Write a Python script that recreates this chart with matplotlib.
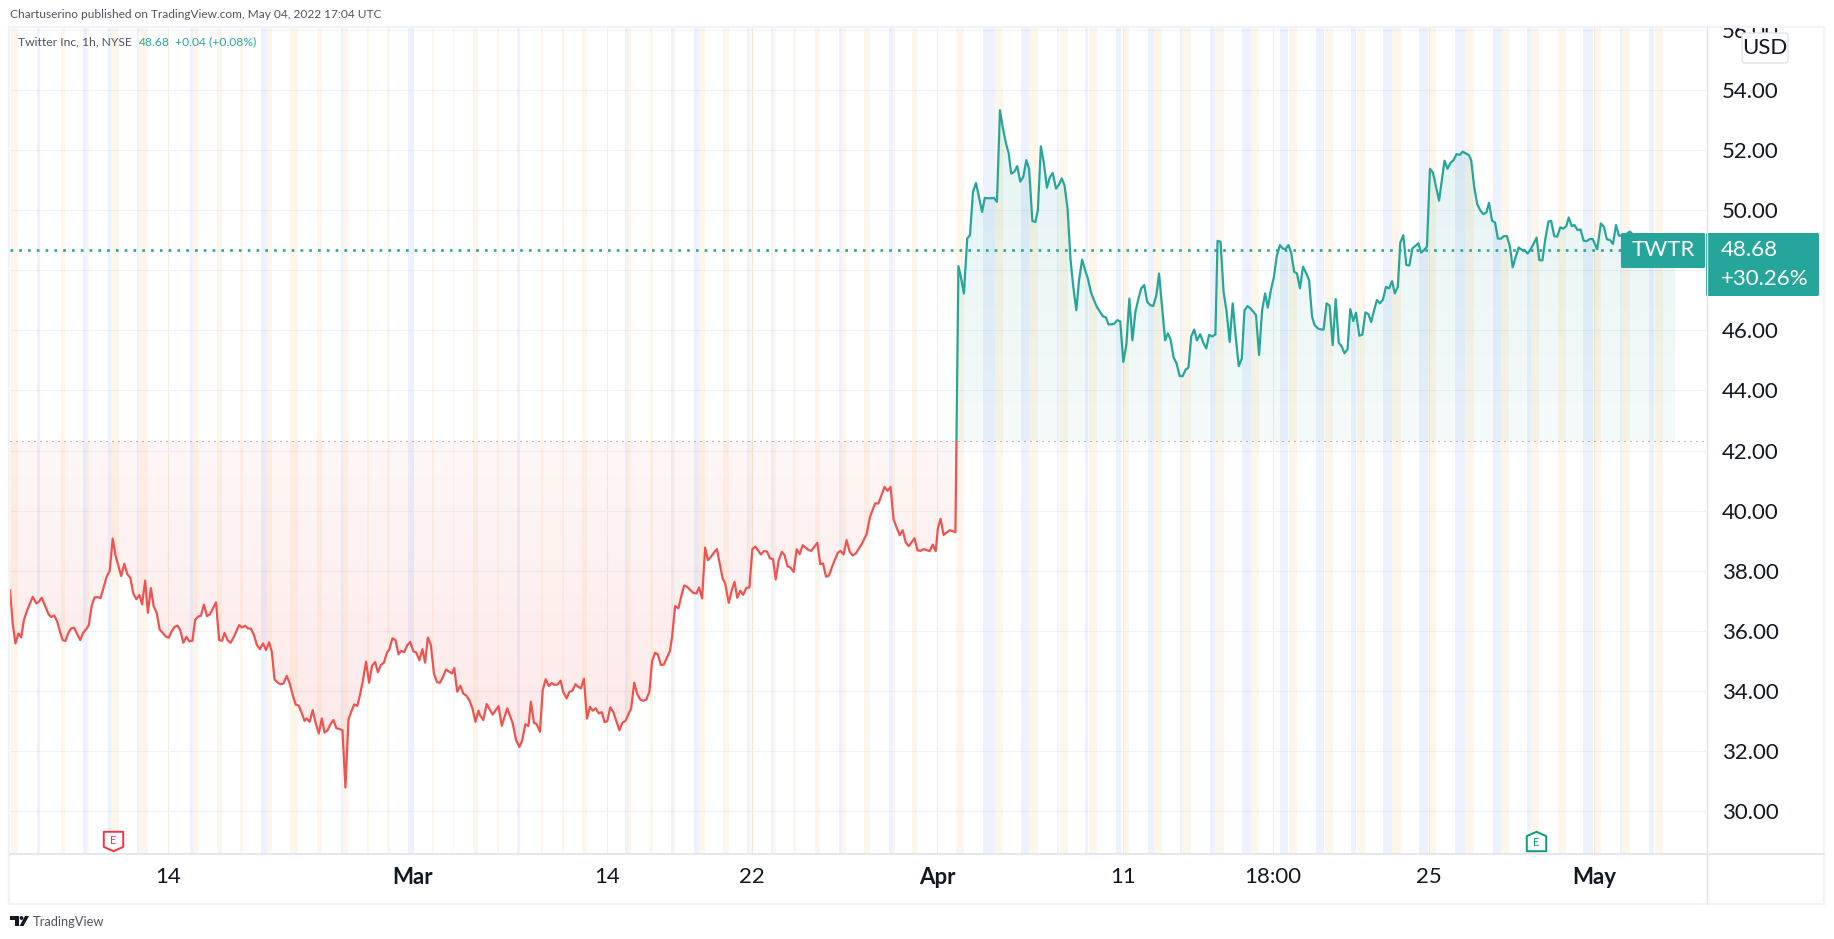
import numpy as np
import matplotlib
matplotlib.use("Agg")
import matplotlib.pyplot as plt
from matplotlib.colors import to_rgb
from matplotlib.patches import Circle, FancyBboxPatch, Polygon, Rectangle
from matplotlib.path import Path
from matplotlib.transforms import blended_transform_factory

plt.rcParams["font.family"] = ["Lato", "DejaVu Sans"]

# --- TWTR 1h closes, x is the bar number on the chart ---
feb_bars = [0, 0.9, 1.8, 2.8, 3.7, 4.6, 5.7, 7.5, 8.7, 9.5, 10.5, 11.6, 12.8, 13.6, 14.6, 15.6, 16.5, 17.4, 18.3, 19.3,
            20.2, 21.2, 22.2, 23.2, 24.2, 25.2, 26, 27, 27.9, 28.9, 29.9, 30.9, 31.9, 32.9, 33.9, 34.8, 35.8, 36.7, 37.7, 38.7,
            39.7, 40.7, 41.7, 42.7, 43.6, 44.6, 45.5, 46.5, 47.4, 48.4, 49.4, 50.4, 51.4, 52.4, 53.4, 54.3, 55.3, 56.2, 57.2, 58.2,
            59.2, 60.2, 61.1, 62, 63, 64, 65, 66, 68, 69, 70, 70.8, 71.8, 72.8, 73.8, 75.6, 76.6, 77.6, 78.5, 79.5,
            80.5, 81.5, 82.5, 83.5, 84.5, 85.5, 86.4, 87.3, 88.3, 89.3, 90.3, 91.3, 92.3, 93.3, 94.3, 95.3, 96.3, 97.2, 97.9, 98.9,
            99.9, 100.9, 101.9, 102.9, 103.8, 104.8, 105.8, 106.7, 107.7, 108.7, 109.7, 110.7, 111.7, 112.6, 113.6, 114.6, 115.5, 116.5, 117.5, 118.5,
            119.5, 120.5, 121.4, 122.4, 123.4, 124.4, 125.2, 126.2, 127.2, 128.2, 129.1, 130.1, 131.1, 132.1, 133.1, 134.1, 135.1, 136.1, 137, 137.9,
            138.9, 139.9, 140.9, 141.9, 142.9, 143.9, 144.9, 145.9, 146.6, 147.6, 148.6, 149.6, 150.6, 151.6, 152.6, 153.6, 154.6]
feb_prices = [37.35, 36.24, 35.58, 35.91, 35.78, 36.36, 36.69, 37.13, 36.91, 36.97, 37.10, 36.82, 36.54, 36.46, 36.51, 36.30, 35.97, 35.69, 35.66, 35.94,
              36.08, 36.10, 35.88, 35.69, 35.94, 36.06, 36.19, 36.85, 37.11, 37.12, 37.09, 37.44, 37.80, 37.99, 39.07, 38.52, 38.15, 37.82, 38.23, 37.89,
              37.76, 37.24, 37.05, 37.19, 36.88, 37.67, 36.60, 37.42, 36.82, 36.60, 36.04, 35.93, 35.81, 35.77, 35.99, 36.13, 36.17, 36.02, 35.60, 35.80,
              35.65, 35.67, 36.36, 36.47, 36.50, 36.87, 36.49, 36.55, 36.95, 35.69, 35.67, 35.93, 35.69, 35.60, 35.78, 36.19, 36.11, 36.17, 36.08, 36.07,
              35.86, 35.52, 35.39, 35.58, 35.36, 35.62, 35.30, 34.38, 34.28, 34.22, 34.25, 34.50, 34.25, 33.86, 33.54, 33.51, 33.25, 33.00, 33.08, 32.97,
              33.36, 32.92, 32.58, 33.08, 32.61, 32.69, 32.89, 33.03, 32.76, 32.73, 32.69, 30.78, 33.05, 33.30, 33.55, 33.50, 33.86, 34.36, 34.97, 34.27,
              34.84, 34.96, 34.62, 34.86, 34.94, 35.27, 35.38, 35.75, 35.69, 35.22, 35.33, 35.29, 35.52, 35.63, 35.32, 35.27, 35.02, 35.39, 34.94, 35.78,
              35.52, 34.58, 34.29, 34.27, 34.47, 34.71, 34.64, 34.58, 34.76, 33.97, 34.17, 33.91, 33.84, 33.69, 33.42, 32.97, 33.34]

mar_bars = [155.1, 156.2, 157.3, 159.3, 161.2, 162.3, 164.1, 165.9, 167, 168.1, 169, 170.1, 171.1, 171.9, 172.9, 173.8, 174.9, 175.8, 176.8, 177.8,
            178.8, 179.7, 180.7, 181.7, 182.6, 183.7, 184.6, 185.6, 186.6, 187.5, 188.4, 189.4, 190.4, 191.4, 192.3, 193.3, 194.3, 195.3, 196.2, 197.1,
            198.1, 199.1, 200.1, 201.1, 202.1, 203.1, 205, 206, 207, 208, 209, 210, 211, 211.9, 212.9, 213.8, 214.8, 215.8, 217.8, 218.5,
            219.5, 220.6, 221.7, 222.5, 223.5, 225.5, 226.5, 227.4, 228.4, 229.4, 230.3, 231.3, 232.3, 233.3, 234.2, 235.2, 236, 237.2, 238.2, 239.1,
            240, 241, 242, 243, 244, 245, 246, 247.8, 248.8, 249.8, 250.8, 251.8, 252.7, 253.7, 254.7, 255.6, 256.6, 257.6, 258.6, 259.6,
            260.6, 261.6, 263.5, 264.4, 266.4, 267.4, 268.3, 269.3, 270.3, 271.3, 273.2, 274.1, 275.1, 276.1, 277.1, 278.1, 279.1, 281.1, 282.7, 283.8,
            285.5, 286.6, 288.6, 289.6, 290.6, 291.6, 293.6, 294.6, 295.6, 296.6, 298.5, 299.5, 300.5, 301.5, 303.5, 304.5, 305.5, 306.2, 307.1, 308.1,
            310.1, 312]
mar_prices = [33.19, 33.03, 33.56, 33.21, 33.49, 32.84, 33.42, 32.92, 32.36, 32.13, 32.34, 32.89, 32.83, 33.64, 32.94, 32.89, 32.64, 34.02, 34.39, 34.16,
              34.26, 34.20, 34.21, 34.34, 33.95, 33.75, 33.97, 34.00, 34.22, 34.14, 34.08, 34.40, 33.08, 33.47, 33.34, 33.42, 33.25, 33.29, 32.96, 32.99,
              33.45, 33.30, 32.99, 32.69, 32.94, 33.00, 33.42, 34.27, 33.89, 33.71, 33.67, 33.71, 33.97, 35.00, 35.27, 35.21, 34.86, 34.88, 35.33, 35.80,
              36.82, 36.75, 37.22, 37.51, 37.46, 37.26, 37.24, 37.44, 37.08, 38.77, 38.35, 38.46, 38.60, 38.72, 38.24, 37.74, 37.58, 36.93, 37.35, 37.63,
              37.10, 37.33, 37.20, 37.43, 37.44, 38.72, 38.80, 38.54, 38.65, 38.64, 38.41, 38.39, 37.71, 38.35, 38.63, 38.52, 38.15, 38.10, 37.96, 38.71,
              38.55, 38.85, 38.69, 38.66, 38.93, 38.22, 38.24, 37.80, 37.84, 38.13, 38.60, 38.66, 38.54, 39.02, 38.63, 38.51, 38.57, 38.89, 39.22, 39.79,
              40.24, 40.24, 40.79, 40.66, 40.79, 39.70, 39.18, 39.35, 38.94, 38.82, 39.08, 38.68, 38.66, 38.72, 38.65, 38.87, 38.65, 39.40, 39.73, 39.19,
              39.35, 39.28]

apr_bars = [313, 313.8, 314.8, 315.9, 316.8, 317.8, 318.8, 319.8, 320.8, 321.7, 322.7, 323.7, 324.7, 325.7, 326.7, 327.7, 328.7, 329.6, 330.4, 331.4,
            332.4, 333.4, 334.4, 335.4, 336.3, 337.4, 338.4, 339.2, 340.2, 341.2, 342.2, 343.2, 344.1, 345.2, 346.2, 347.1, 348, 349, 350, 350.9,
            351.9, 352.8, 353.8, 354.8, 355.7, 356.7, 357.7, 358.7, 359.7, 360.7, 361.7, 362.5, 363.4, 364.4, 365.4, 366.4, 367.4, 368.4, 369.4, 370.4,
            371.4, 372.4, 373.3, 374.3, 375.3, 376.3, 377.3, 378.3, 379.2, 380.2, 381.2, 382.1, 383, 384, 385, 386, 387, 388, 388.9, 389.8,
            390.8, 391.7, 392.8, 393.8, 394.8, 395.7, 396.8, 397.8, 398.5, 399.5, 400.5, 401.5, 402.5, 403.5, 404.5, 405.5, 406.5, 407.4, 408.4, 409.4,
            411.2, 412.2, 413.2, 414.2, 415.1, 416.1, 417.1, 418.1]
apr_prices = [48.14, 47.78, 47.23, 49.06, 49.17, 50.61, 50.91, 50.42, 49.94, 50.41, 50.40, 50.40, 50.41, 50.28, 53.33, 52.72, 52.22, 51.89, 51.22, 51.28,
              51.47, 50.95, 51.11, 51.67, 51.39, 49.64, 49.61, 50.00, 52.13, 51.56, 50.75, 51.11, 51.24, 50.72, 50.86, 51.06, 50.83, 50.06, 48.34, 47.45,
              46.67, 47.67, 48.36, 48.01, 47.73, 47.28, 47.01, 46.78, 46.62, 46.47, 46.43, 46.20, 46.20, 46.22, 46.34, 46.30, 44.95, 45.51, 47.06, 45.67,
              46.62, 47.06, 47.40, 47.51, 46.95, 46.84, 46.81, 47.17, 47.89, 46.78, 45.67, 45.90, 45.70, 45.10, 44.90, 44.48, 44.48, 44.70, 44.76, 45.79,
              46.03, 45.67, 45.87, 45.59, 45.40, 45.85, 45.80, 45.87, 48.98, 48.95, 47.28, 46.62, 45.62, 46.90, 45.79, 44.81, 45.06, 46.67, 46.81, 46.73,
              46.51, 45.18, 46.67, 47.23, 46.76, 47.34, 47.78, 48.50]

may_bars = [419.1, 420, 420.9, 421.9, 422.8, 423.8, 424.7, 425.7, 426.7, 427.7, 428.7, 429.7, 430.5, 431.6, 432.6, 433.5, 434.5, 435.5, 436.5, 437.5,
            438.5, 439.5, 440.4, 441.4, 442.3, 443.3, 444.2, 445.3, 446.3, 447.3, 448.3, 449.2, 450.2, 451.1, 452.1, 453.1, 454.1, 455.1, 456.1, 457,
            458, 458.8, 459.8, 460.8, 461.8, 462.8, 464.8, 465.7, 466.7, 467.6, 468.6, 469.6, 471.6, 473.4, 474.4, 475.4, 476.4, 477.4, 478.4, 479.4,
            481.4, 482.2, 483.2, 484.2, 485.2, 486.2, 487.2, 488.1, 489.1, 490.1, 491, 492, 493, 494, 495, 495.9, 496.9, 497.9, 498.9, 499.8,
            500.8, 501.8, 502.8, 503.8, 504.7, 505.7, 506.7, 507.7, 508.6, 509.6, 510.6, 511.6, 512.6, 513.6, 514.4, 515.4, 516.3, 517.3, 518.3, 519.3,
            520.3, 521.3, 522.3, 523.8, 525, 526, 527, 528, 529, 530, 531, 533, 534.6, 538, 542, 546, 549.5]
may_prices = [48.84, 48.73, 48.70, 48.84, 48.59, 47.95, 47.90, 47.40, 48.12, 47.92, 47.68, 46.46, 46.18, 46.07, 46.03, 46.03, 46.90, 46.82, 45.51, 47.04,
              45.59, 45.46, 45.24, 45.37, 46.71, 46.31, 46.59, 45.82, 45.86, 46.60, 46.54, 46.28, 46.68, 47.01, 46.90, 47.03, 47.45, 47.40, 47.64, 47.23,
              47.45, 48.92, 49.17, 48.18, 48.16, 48.73, 48.90, 48.59, 48.68, 48.79, 51.38, 51.25, 50.32, 51.65, 51.38, 51.58, 51.67, 51.87, 51.84, 51.95,
              51.84, 51.67, 50.78, 50.21, 50.00, 49.87, 49.92, 50.25, 49.65, 49.59, 49.06, 49.05, 49.14, 49.14, 48.79, 48.10, 48.45, 48.76, 48.68, 48.68,
              48.56, 48.70, 48.88, 49.09, 48.34, 48.33, 49.06, 49.62, 49.65, 49.14, 49.12, 49.43, 49.39, 49.47, 49.76, 49.47, 49.51, 49.34, 49.36, 48.99,
              48.97, 49.04, 49.04, 48.70, 49.56, 49.45, 49.03, 49.01, 48.88, 49.51, 49.15, 49.18, 49.29, 48.90, 48.60, 48.75, 48.68]

BASELINE = 42.32
LAST_PRICE = 48.68

price_ticks = [30, 32, 34, 36, 38, 40, 42, 44, 46, 48, 50, 52, 54, 56]
covered_price_ticks = [48]  # sits under the last-price badge
time_ticks = [52.1, 133, 197, 244.9, 305.9, 367.3, 416.8, 468.3, 522.7]
time_labels = ["14", "Mar", "14", "22", "Apr", "11", "18:00", "25", "May"]
month_labels = ["Mar", "Apr", "May"]
earnings_bars = [34, 503.6]

# pre-market / after-hours session shading, (first bar, last bar)
premarket_bands = [(0.3, 2.6), (16.8, 18.2), (25.4, 26.1), (33.3, 36), (42.6, 45.5), (60.4, 62), (68.3, 70), (75.9, 76.9),
                   (84.8, 86.5), (92.4, 95), (101.3, 103), (109.9, 111.5), (117.8, 118.5), (124.4, 125.4), (139.3, 139.9),
                   (146.2, 146.5), (152.8, 154.4), (160.7, 161.4), (175.2, 175.9), (182.2, 182.8), (188.8, 190.4), (203.9, 204.9),
                   (211.2, 212.2), (218.8, 219.5), (227.4, 229.4), (235.3, 237.3), (243.9, 245.2), (251.8, 252.8), (258.4, 259.4),
                   (265.7, 267.3), (274.6, 275.9), (281.8, 283.8), (291.4, 292), (297.7, 299.3), (312.2, 314.8), (325, 327.7),
                   (336.3, 339.2), (346.5, 349.1), (356, 358.7), (367.3, 369.3), (377.5, 380.2), (386.8, 389.7), (397.7, 400.6),
                   (409.5, 412.2), (422.1, 424.7), (434, 436.6), (444.5, 447.2), (456.1, 459), (467.9, 470.6), (480.2, 483.1),
                   (492, 494.7), (501.9, 504.6), (510.8, 513.5), (522.7, 525), (532, 534.6), (542.9, 545.5)]
afterhours_bands = [(8.9, 9.9), (24.1, 25.4), (32.3, 33.3), (41.9, 42.6), (59.4, 60.4), (82.8, 84.8), (109.2, 109.9), (131.3, 133),
                    (167.3, 168.3), (203, 203.9), (218.1, 218.8), (225.7, 227.4), (243.2, 243.9), (251.1, 251.8), (273.6, 274.6),
                    (290, 291.4), (321.1, 325), (333.6, 336.3), (345.5, 346.2), (354.8, 355.7), (365, 366.6), (375.5, 377.5),
                    (386.1, 386.8), (396, 397.7), (406.6, 409.5), (419.1, 421.7), (431, 433.6), (442.5, 444.2), (453.1, 456.1),
                    (465, 467.9), (476.9, 480.2), (489.4, 492), (500.6, 501.9), (519.1, 522.4), (531.3, 532), (540.9, 542.5)]

UP = "#26a69a"
DOWN = "#ef5350"
TEXT = "#131722"
GRID = "#f0f3fa"
BORDER = "#e0e3eb"

bars = np.array(feb_bars + mar_bars + apr_bars + may_bars)
prices = np.array(feb_prices + mar_prices + apr_prices + may_prices)

fig = plt.figure(figsize=(18.34, 9.39), dpi=100, facecolor="white")
ax = fig.add_axes([10 / 1834, 1 - 854 / 939, 1696 / 1834, 827 / 939])
ax.set_xlim(0, 559.7)
ax.set_ylim(28.57, 56.1)


def gradient_fill(top, bottom, color, alpha_top, alpha_bottom, region):
    # vertical alpha ramp, clipped to the area between price and baseline
    rgba = np.zeros((256, 1, 4))
    rgba[..., :3] = to_rgb(color)
    rgba[:, 0, 3] = np.linspace(alpha_top, alpha_bottom, 256)
    img = ax.imshow(rgba, extent=(bars[0], bars[-1], bottom, top), aspect="auto", zorder=1, interpolation="bilinear")
    clip = region.get_paths()[0]
    img.set_clip_path(clip, transform=ax.transData)
    region.remove()


above = ax.fill_between(bars, BASELINE, np.maximum(prices, BASELINE), lw=0)
below = ax.fill_between(bars, np.minimum(prices, BASELINE), BASELINE, lw=0)
gradient_fill(prices.max(), BASELINE, UP, 0.13, 0.05, above)
gradient_fill(BASELINE, prices.min(), DOWN, 0.05, 0.14, below)

for start, end in premarket_bands:
    ax.axvspan(start, end, color="#ff9800", alpha=0.08, lw=0, zorder=1.5)
for start, end in afterhours_bands:
    ax.axvspan(start, end, color="#2962ff", alpha=0.08, lw=0, zorder=1.5)

ax.set_axisbelow(True)
ax.yaxis.tick_right()
ax.set_yticks(price_ticks)
ax.set_yticklabels(["" if p in covered_price_ticks else f"{p:.2f}" for p in price_ticks])
ax.set_xticks(time_ticks)
ax.set_xticklabels(time_labels)
ax.tick_params(axis="y", length=0, pad=11.5, labelsize=16, labelcolor=TEXT)
ax.tick_params(axis="x", length=0, pad=9.5, labelsize=16, labelcolor=TEXT)
for label in ax.get_xticklabels():
    if label.get_text() in month_labels:
        label.set_fontweight("bold")
ax.grid(True, axis="y", color=GRID, lw=0.8)
ax.grid(True, axis="x", color="#f4ede2", lw=0.8)
for spine in ax.spines.values():
    spine.set_visible(False)

# price line changes colour at the baseline
line_up, = ax.plot(bars, prices, color=UP, lw=1.6, zorder=3, solid_joinstyle="round")
line_up.set_clip_path(Rectangle((0, BASELINE), 560, 20, transform=ax.transData))
line_down, = ax.plot(bars, prices, color=DOWN, lw=1.6, zorder=3, solid_joinstyle="round")
line_down.set_clip_path(Rectangle((0, 20), 560, BASELINE - 20, transform=ax.transData))

ax.axhline(BASELINE, color="#787b86", lw=0.72, ls=(0, (1, 5)), zorder=2.5)
ax.axhline(LAST_PRICE, color=UP, lw=1.9, ls=(0, (1, 2.33)), zorder=2.5)

# earnings flags along the bottom of the pane
flag_pos = blended_transform_factory(ax.transData, ax.transAxes)
flag_shape = Path([(-1, 1), (1, 1), (1, -0.55), (0, -1), (-1, -0.55), (-1, 1)], closed=True)
rocket_shape = Path([(-1, -1), (1, -1), (1, 0.55), (0, 1), (-1, 0.55), (-1, -1)], closed=True)
ax.plot([earnings_bars[0]], [0.0157], marker=flag_shape, ms=14, mfc="white", mec="#f23645", mew=1.4,
        transform=flag_pos, clip_on=False, zorder=4, ls="none")
ax.text(earnings_bars[0], 0.0167, "E", color="#f23645", fontsize=8, ha="center", va="center", transform=flag_pos, zorder=5)
ax.plot([earnings_bars[1]], [0.0157], marker=rocket_shape, ms=14, mfc="white", mec="#089981", mew=1.4,
        transform=flag_pos, clip_on=False, zorder=4, ls="none")
ax.text(earnings_bars[1], 0.0137, "E", color="#089981", fontsize=8, ha="center", va="center", transform=flag_pos, zorder=5)

# page furniture is laid out in pixels on a full-figure overlay
page = fig.add_axes([0, 0, 1, 1], facecolor="none", zorder=5)
page.set_xlim(0, 1834)
page.set_ylim(939, 0)
page.axis("off")
page.add_patch(Rectangle((0, 0), 1834, 27, fc="white", ec="none"))
page.add_patch(Rectangle((9, 27), 1815, 877, fc="none", ec=GRID, lw=1.6))
page.plot([1707, 1707], [27, 904], color=BORDER, lw=1)
page.plot([10, 1824], [854, 854], color=BORDER, lw=1.2)

page.text(10, 15, "Chartuserino published on TradingView.com, May 04, 2022 17:04 UTC", color="#50535e",
          fontsize=8.6, va="center")
page.text(18, 42, "Twitter Inc, 1h, NYSE", color="#50535e", fontsize=8.7, va="center")
page.text(139, 42, "48.68", color=UP, fontsize=8.7, va="center")
page.text(175, 42, "+0.04 (+0.08%)", color=UP, fontsize=8.7, va="center")

page.add_patch(FancyBboxPatch((1742, 33), 46, 30, boxstyle="round,pad=0,rounding_size=3", fc="white", ec=BORDER, lw=1))
page.text(1765, 48, "USD", color=TEXT, fontsize=16, ha="center", va="center")

page.add_patch(FancyBboxPatch((1621, 233), 84, 35, boxstyle="round,pad=0,rounding_size=1.5", fc=UP, ec="none"))
page.add_patch(FancyBboxPatch((1706, 233), 113, 63, boxstyle="round,pad=0,rounding_size=1.5", fc=UP, ec="none"))
page.text(1663, 250, "TWTR", color="white", fontsize=16, ha="center", va="center")
page.text(1721, 250, "48.68", color="white", fontsize=16, va="center")
page.text(1721, 279, "+30.26%", color="white", fontsize=16, va="center")

# TradingView logo and wordmark
page.add_patch(Polygon([(10, 916), (19, 916), (19, 926), (15, 926), (15, 919.5), (10, 919.5)], fc=TEXT, ec="none"))
page.add_patch(Circle((21.5, 918), 1.9, fc=TEXT, ec="none"))
page.add_patch(Polygon([(19.5, 926), (25, 916), (29, 916), (23.5, 926)], fc=TEXT, ec="none"))
page.text(33, 922, "TradingView", color="#50535e", fontsize=9.3, va="center")

fig.savefig("out.png", dpi=100)
